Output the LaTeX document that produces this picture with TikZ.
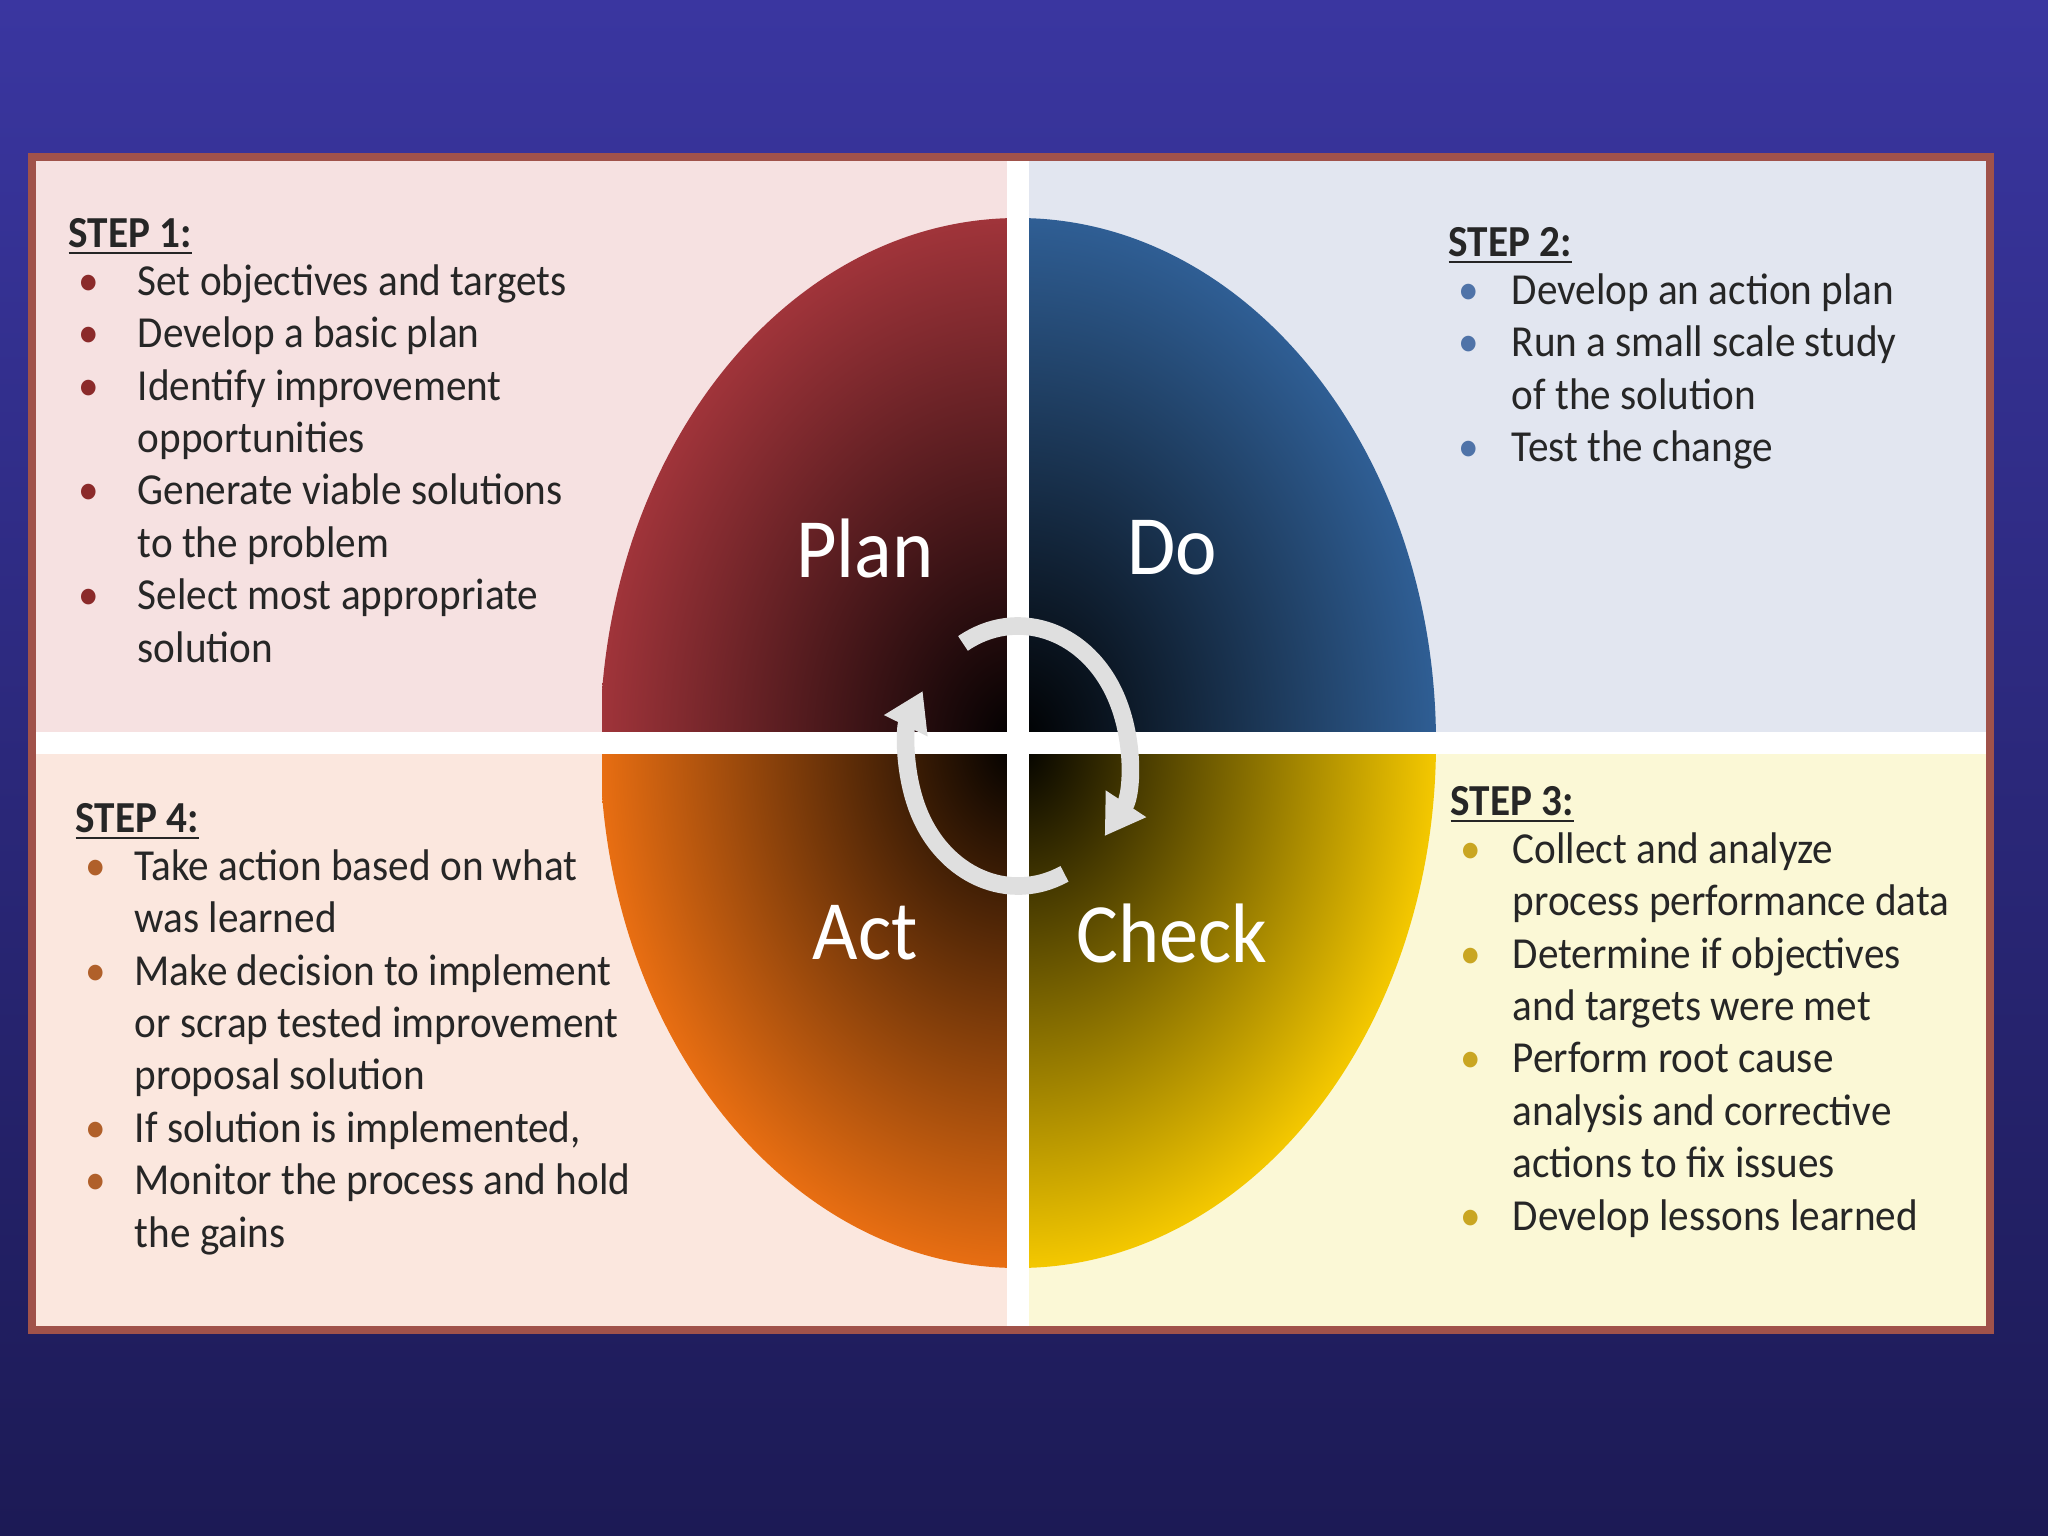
\documentclass[tikz,border=0pt]{standalone}
\usepackage{fontspec}
\setmainfont{Carlito}[FakeStretch=0.93]
\usetikzlibrary{arrows.meta,calc}
\definecolor{bgtop}{HTML}{3A36A0}
\definecolor{bgbot}{HTML}{1C1A55}
\definecolor{pTL}{HTML}{F6E1E1}
\definecolor{pTR}{HTML}{E2E6F0}
\definecolor{pBL}{HTML}{FBE7DE}
\definecolor{pBR}{HTML}{FBF8D6}
\definecolor{cPlan}{HTML}{A0343A}
\definecolor{cDo}{HTML}{2F5E94}
\definecolor{cAct}{HTML}{E86E12}
\definecolor{cCheck}{HTML}{F4C800}
\definecolor{bA}{HTML}{8B2A2A}
\definecolor{bB}{HTML}{4F73A8}
\definecolor{bC}{HTML}{C9A622}
\definecolor{bD}{HTML}{B0602A}
\definecolor{frame}{HTML}{A0524A}
\newcommand{\bul}[1]{\hspace*{0.1cm}{\color{#1}\textbullet}}
\newcommand{\stephead}[1]{\textbf{\underline{#1}}}
\tikzset{
  txt/.style={inner sep=0pt, align=left, anchor=north west, font=\fontsize{12.6}{14.9}\selectfont, text=black!85},
  lab/.style={text=white, font=\fontsize{24}{26}\selectfont},
  ring/.style={line width=5pt, color=gray!25, -{Triangle[width=13pt,length=11pt]}}
}
\begin{document}
\begin{tikzpicture}[x=0.01cm,y=-0.01cm]
\useasboundingbox (0,0) rectangle (2048,1536);
\shade[top color=bgtop, bottom color=bgbot] (0,0) rectangle (2048,1536);
% panel
\fill[pTL] (32,157) rectangle (1018,743);
\fill[pTR] (1018,157) rectangle (1990,743);
\fill[pBL] (32,743) rectangle (1018,1330);
\fill[pBR] (1018,743) rectangle (1990,1330);
% ellipse quadrants
\begin{scope}
\clip (602,218) rectangle (1018,743);
\shade[inner color=black, outer color=cPlan] (1018,743) ellipse (418 and 525);
\end{scope}
\begin{scope}
\clip (1018,218) rectangle (1436,743);
\shade[inner color=black, outer color=cDo] (1018,743) ellipse (418 and 525);
\end{scope}
\begin{scope}
\clip (602,743) rectangle (1018,1268);
\shade[inner color=black, outer color=cAct] (1018,743) ellipse (418 and 525);
\end{scope}
\begin{scope}
\clip (1018,743) rectangle (1436,1268);
\shade[inner color=black, outer color=cCheck] (1018,743) ellipse (418 and 525);
\end{scope}
% dividers
\fill[white] (1007,157) rectangle (1029,1330);
\fill[white] (32,732) rectangle (1990,754);
\draw[frame, line width=2.5pt] (32,157) rectangle (1990,1330);
% cycle arrows
\coordinate (rc) at (1018,756);
\draw[ring] ($(rc)+(-120:110 and 130)$) arc[start angle=-120, end angle=38, x radius=110, y radius=130];
\draw[ring] ($(rc)+(65:110 and 130)$) arc[start angle=65, end angle=210, x radius=110, y radius=130];
% labels
\node[lab] (plan) at (865,548) {Plan};
\node[lab] (do) at (1172,548) {Do};
\node[lab] (act) at (865,933) {Act};
\node[lab] (check) at (1172,933) {Check};
% text blocks
\node[txt] (s1) at (68,218) {\stephead{STEP 1:}\\
\begin{tabular}{@{}p{0.69cm}@{}l@{}}
\bul{bA} & Set objectives and targets\\
\bul{bA} & Develop a basic plan\\
\bul{bA} & Identify improvement\\
 & opportunities\\
\bul{bA} & Generate viable solutions\\
 & to the problem\\
\bul{bA} & Select most appropriate\\
 & solution
\end{tabular}};
\node[txt] (s2) at (1448,227) {\stephead{STEP 2:}\\
\begin{tabular}{@{}p{0.63cm}@{}l@{}}
\bul{bB} & Develop an action plan\\
\bul{bB} & Run a small scale study\\
 & of the solution\\
\bul{bB} & Test the change
\end{tabular}};
\node[txt] (s3) at (1450,786) {\stephead{STEP 3:}\\
\begin{tabular}{@{}p{0.62cm}@{}l@{}}
\bul{bC} & Collect and analyze\\
 & process performance data\\
\bul{bC} & Determine if objectives\\
 & and targets were met\\
\bul{bC} & Perform root cause\\
 & analysis and corrective\\
 & actions to fix issues\\
\bul{bC} & Develop lessons learned
\end{tabular}};
\node[txt] (s4) at (75,803) {\stephead{STEP 4:}\\
\begin{tabular}{@{}p{0.59cm}@{}l@{}}
\bul{bD} & Take action based on what\\
 & was learned\\
\bul{bD} & Make decision to implement\\
 & or scrap tested improvement\\
 & proposal solution\\
\bul{bD} & If solution is implemented,\\
\bul{bD} & Monitor the process and hold\\
 & the gains
\end{tabular}};
\end{tikzpicture}
\end{document}
